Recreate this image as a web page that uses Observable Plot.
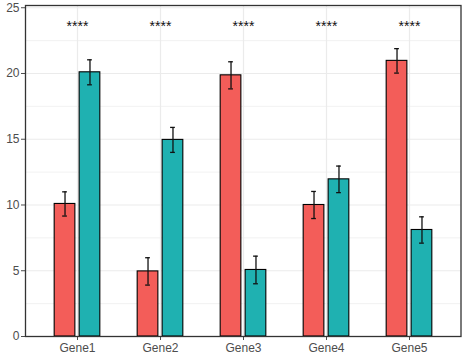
<!DOCTYPE html>
<html>
<head>
<meta charset="utf-8">
<script src="https://cdn.jsdelivr.net/npm/d3@7"></script>
<script src="https://cdn.jsdelivr.net/npm/@observablehq/plot@0.6"></script>
<style>
  html, body { margin: 0; padding: 0; background: #fff; }
</style>
</head>
<body>
<div id="chart"></div>
<script>
// ---- data ----
const genes = ["Gene1", "Gene2", "Gene3", "Gene4", "Gene5"];
const groups = ["A", "B"];
const meanA = [10.08, 4.95, 19.86, 10.0, 20.96];
const seA   = [0.92, 1.04, 1.03, 1.03, 0.93];
const meanB = [20.09, 14.95, 5.06, 11.95, 8.1];
const seB   = [0.95, 0.95, 1.05, 1.01, 1.0];
const sigLabels = ["****", "****", "****", "****", "****"];
const sigY = 23.55;
const yTicks = [0, 5, 10, 15, 20, 25];
const yMinor = [2.5, 7.5, 12.5, 17.5, 22.5];
const colors = ["#F35D59", "#1FB1B1"];

// ---- layout ----
const W = 474, H = 360;
const mL = 25, mR = 13.5, mT = 5, mB = 24;
const pInner = 0.4, pOuter = 0.3;
const step = (W - mL - mR) / (genes.length - pInner + 2 * pOuter);
const bw = step * (1 - pInner);
const barW = step * 0.25;
const dodge = step * 0.149;
const capW = 5;
const barInset = (bw - barW) / 2;
const capInset = (bw - capW) / 2;

const rows = genes.flatMap((g, i) => [
  {gene: g, group: groups[0], mean: meanA[i], se: seA[i]},
  {gene: g, group: groups[1], mean: meanB[i], se: seB[i]}
]);
const sig = genes.map((g, i) => ({gene: g, label: sigLabels[i], y: sigY}));

function groupMarks(k, sign) {
  const data = rows.filter(d => d.group === groups[k]);
  return [
    Plot.barY(data, {x: "gene", y: "mean", fill: colors[k], stroke: "#000", strokeWidth: 1.1,
      insetLeft: barInset, insetRight: barInset, dx: sign * dodge}),
    Plot.ruleX(data, {x: "gene", y1: d => d.mean - d.se, y2: d => d.mean + d.se,
      stroke: "#111", strokeWidth: 1.3, dx: sign * dodge}),
    Plot.tickY(data, {x: "gene", y: d => d.mean - d.se, stroke: "#111", strokeWidth: 1.3,
      insetLeft: capInset, insetRight: capInset, dx: sign * dodge}),
    Plot.tickY(data, {x: "gene", y: d => d.mean + d.se, stroke: "#111", strokeWidth: 1.3,
      insetLeft: capInset, insetRight: capInset, dx: sign * dodge})
  ];
}

const chart = Plot.plot({
  width: W,
  height: H,
  marginLeft: mL,
  marginRight: mR,
  marginTop: mT,
  marginBottom: mB,
  style: {fontFamily: "'Liberation Sans', Arial, sans-serif", fontSize: "12px", color: "#4D4D4D", background: "#fff"},
  x: {domain: genes, paddingInner: pInner, paddingOuter: pOuter, label: null, tickSize: 4, tickPadding: 3},
  y: {domain: [0, 25.17], ticks: yTicks, label: null, tickSize: 4, tickPadding: 2},
  marks: [
    Plot.ruleY(yMinor, {stroke: "#EDEDED", strokeWidth: 0.7}),
    Plot.ruleY(yTicks, {stroke: "#EBEBEB", strokeWidth: 1.2}),
    Plot.ruleX(genes, {x: d => d, stroke: "#EBEBEB", strokeWidth: 1.2}),
    ...groupMarks(0, -1),
    ...groupMarks(1, 1),
    Plot.text(sig, {x: "gene", y: "y", text: "label", fill: "#111", fontSize: 14}),
    Plot.frame({stroke: "#333", strokeWidth: 1.3})
  ]
});
document.getElementById("chart").appendChild(chart);
</script>
</body>
</html>
